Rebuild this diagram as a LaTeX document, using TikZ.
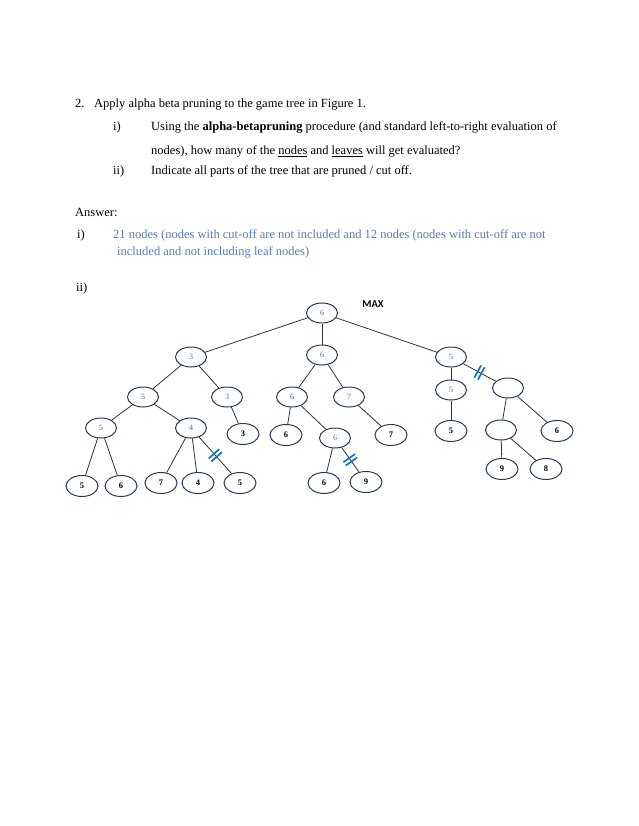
\documentclass[tikz,border=0pt]{standalone}
\usepackage{fontspec}
\setmainfont{Liberation Serif}
\newfontfamily\maxfont{Carlito}
\usetikzlibrary{shapes}
\definecolor{tree_blue}{RGB}{70, 110, 170}
\definecolor{ans_blue}{RGB}{84, 124, 182}
\definecolor{edge_navy}{RGB}{40, 56, 88}
\definecolor{cut_blue}{RGB}{0, 112, 192}
\tikzstyle{bn}=[ellipse,draw=edge_navy,line width=1 pt,inner sep=0pt,
  minimum width=31pt,minimum height=20pt,text=tree_blue,font=\fontsize{8}{9}\selectfont]
\tikzstyle{ln}=[ellipse,draw=edge_navy,line width=1 pt,inner sep=0pt,
  minimum width=32pt,minimum height=21pt,font=\bfseries\fontsize{8.5}{9}\selectfont]
\tikzstyle{txt}=[anchor=base west,inner sep=0pt,font=\fontsize{12.5}{14}\selectfont]
\tikzset{prune/.pic={\draw[cut_blue,line width=1.6pt] (-2pt,-7pt) -- (-2pt,7pt) (2pt,-7pt) -- (2pt,7pt);}}

\begin{document}
\begin{tikzpicture}[x=1pt,y=-1pt]
    \useasboundingbox (0,0) rectangle (638,826);
    % question
    \node [style=txt] (q2) at (75,108) {2.};
    \node [style=txt] (qt) at (94,108) {Apply alpha beta pruning to the game tree in Figure 1.};
    \node [style=txt] (qi) at (113,131) {i)};
    \node [style=txt] (qit) at (151,131) {Using the \textbf{alpha-betapruning} procedure (and standard left-to-right evaluation of};
    \node [style=txt] (qit2) at (151,155) {nodes), how many of the \underline{nodes} and \underline{leaves} will get evaluated?};
    \node [style=txt] (qii) at (113,175) {ii)};
    \node [style=txt] (qiit) at (151,175) {Indicate all parts of the tree that are pruned / cut off.};
    % answer
    \node [style=txt] (ans) at (75,217) {Answer:};
    \node [style=txt] (ai) at (77,238) {i)};
    \node [style=txt,text=ans_blue] (ait) at (113,238) {21 nodes (nodes with cut-off are not included and 12 nodes (nodes with cut-off are not};
    \node [style=txt,text=ans_blue] (ait2) at (117,255) {included and not including leaf nodes)};
    \node [style=txt] (aii) at (76,291) {ii)};
    \node [font=\maxfont\bfseries\fontsize{10.5}{11}\selectfont] (max) at (373,304) {MAX};
    % tree
    \node [style=bn] (root) at (322,313) {6};
    \node [style=bn] (a3) at (191,357) {3};
    \node [style=bn] (b6) at (322,355) {6};
    \node [style=bn] (c5) at (451,357) {5};
    \node [style=bn] (a5) at (143,397) {5};
    \node [style=bn] (a3r) at (227,397) {3};
    \node [style=bn] (b6l) at (292,397) {6};
    \node [style=bn] (b7) at (349,397) {7};
    \node [style=bn] (c5l) at (451,390) {5};
    \node [style=bn] (ce) at (508,388) {};
    \node [style=bn] (a5l) at (101,428) {5};
    \node [style=bn] (a4) at (191,428) {4};
    \node [style=ln] (l3) at (243,434) {3};
    \node [style=ln] (l6a) at (286,435) {6};
    \node [style=bn] (b6m) at (335,438) {6};
    \node [style=ln] (l7) at (391,435) {7};
    \node [style=ln] (l5c) at (451,431) {5};
    \node [style=bn] (cee) at (501,430) {};
    \node [style=ln] (l6c) at (557,431) {6};
    \node [style=ln] (l5a) at (82,486) {5};
    \node [style=ln] (l6b) at (121,486) {6};
    \node [style=ln] (l7a) at (161,483) {7};
    \node [style=ln] (l4) at (198,483) {4};
    \node [style=ln] (l5b) at (240,483) {5};
    \node [style=ln] (l6d) at (324,483) {6};
    \node [style=ln] (l9) at (366,482) {9};
    \node [style=ln] (l9b) at (502,469) {9};
    \node [style=ln] (l8) at (546,469) {8};
    \begin{scope}[line width=0.8pt,black!80]
    \draw (root) to (a3);
    \draw (root) to (b6);
    \draw (root) to (c5);
    \draw (a3) to (a5);
    \draw (a3) to (a3r);
    \draw (a5) to (a5l);
    \draw (a5) to (a4);
    \draw (a5l) to (l5a);
    \draw (a5l) to (l6b);
    \draw (a4) to (l7a);
    \draw (a4) to (l4);
    \draw (a4) -- pic[pos=0.5,sloped] {prune} (l5b);
    \draw (a3r) to (l3);
    \draw (b6) to (b6l);
    \draw (b6) to (b7);
    \draw (b6l) to (l6a);
    \draw (b6l) to (b6m);
    \draw (b6m) to (l6d);
    \draw (b6m) -- pic[pos=0.5,sloped] {prune} (l9);
    \draw (b7) to (l7);
    \draw (c5) to (c5l);
    \draw (c5) -- pic[pos=0.5,sloped] {prune} (ce);
    \draw (c5l) to (l5c);
    \draw (ce) to (cee);
    \draw (ce) to (l6c);
    \draw (cee) to (l9b);
    \draw (cee) to (l8);
    \end{scope}
\end{tikzpicture}
\end{document}
